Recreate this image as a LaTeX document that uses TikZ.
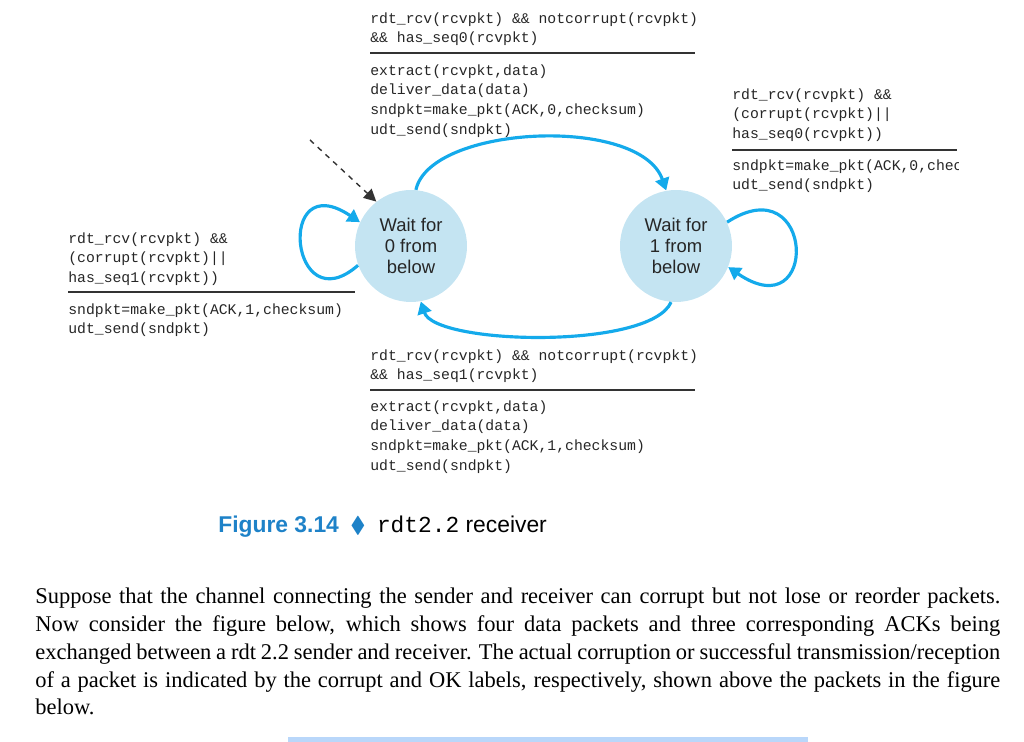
\documentclass[tikz,border=0pt]{standalone}
\usepackage{fontspec}
\usepackage{amssymb}
\usepackage{tikz}
\usetikzlibrary{arrows.meta,positioning}
\setmainfont{Liberation Serif}
\setsansfont{Liberation Sans}
\setmonofont{Liberation Mono}
\definecolor{fsmblue}{RGB}{20,170,235}
\definecolor{statefill}{RGB}{196,228,242}
\definecolor{figblue}{RGB}{30,130,200}
\definecolor{barblue}{RGB}{185,215,250}
\tikzset{
  state/.style={circle, fill=statefill, minimum size=112*0.02cm, inner sep=0pt,
    align=center, font=\sffamily\fontsize{10.5}{12}\selectfont, text=black!85},
  act/.style={anchor=north west, inner sep=0pt, align=left,
    font=\ttfamily\fontsize{8.4}{11.2}\selectfont, text=black!85},
  trans/.style={fsmblue, line width=1.8pt, -{Triangle[length=7pt,width=8pt]}},
  rule/.style={black!80, line width=0.6pt}
}
\begin{document}
\begin{tikzpicture}[x=0.02cm, y=-0.02cm]
    \useasboundingbox (0,0) rectangle (1024,742);

    % States
    \node[state] (s0) at (411,246) {Wait for\\0 from\\below};
    \node[state] (s1) at (676,246) {Wait for\\1 from\\below};

    % Initial
    \coordinate (init) at (310,140);
    \draw[dashed, black!80, thick, -{Triangle[length=7pt,width=7pt]}] (init) -- (s0.128);

    % Transitions
    \draw[trans] (s0.85) .. controls (430,125) and (640,115) .. (s1.100);
    \draw[trans] (s1.265) .. controls (650,350) and (435,345) .. (s0.280);
    \draw[trans] (s0.200) .. controls (290,325) and (275,165) .. (s0.155);
    \draw[trans] (s1.25) .. controls (815,165) and (820,330) .. (s1.-22);

    % Top label
    \node[act] (g01) at (370,12) {rdt\_rcv(rcvpkt) \&\& notcorrupt(rcvpkt)\\\&\& has\_seq0(rcvpkt)};
    \draw[rule] (370,53) -- (695,53);
    \node[act] (a01) at (370,64) {extract(rcvpkt,data)\\deliver\_data(data)\\sndpkt=make\_pkt(ACK,0,checksum)\\udt\_send(sndpkt)};

    % Right label
    \node[act] (g11) at (732,88) {rdt\_rcv(rcvpkt) \&\&\\(corrupt(rcvpkt)||\\has\_seq0(rcvpkt))};
    \draw[rule] (732,150) -- (957,150);
    \begin{scope}
        \clip (700,150) rectangle (958,200);
        \node[act] (a11) at (732,159) {sndpkt=make\_pkt(ACK,0,checksum)\\udt\_send(sndpkt)};
    \end{scope}

    % Left label
    \node[act] (g00) at (68,232) {rdt\_rcv(rcvpkt) \&\&\\(corrupt(rcvpkt)||\\has\_seq1(rcvpkt))};
    \draw[rule] (68,292) -- (355,292);
    \node[act] (a00) at (68,303) {sndpkt=make\_pkt(ACK,1,checksum)\\udt\_send(sndpkt)};

    % Bottom label
    \node[act] (g10) at (370,349) {rdt\_rcv(rcvpkt) \&\& notcorrupt(rcvpkt)\\\&\& has\_seq1(rcvpkt)};
    \draw[rule] (370,390) -- (695,390);
    \node[act] (a10) at (370,400) {extract(rcvpkt,data)\\deliver\_data(data)\\sndpkt=make\_pkt(ACK,1,checksum)\\udt\_send(sndpkt)};

    % Caption
    \node[anchor=west, inner sep=0pt, font=\sffamily\fontsize{13}{15}\selectfont] (cap) at (218,527)
        {\textcolor{figblue}{\bfseries Figure 3.14}\enspace\textcolor{figblue}{$\blacklozenge$}\enspace{\ttfamily rdt2.2} receiver};

    % Question text
    \node[anchor=north west, inner sep=0pt, text width=965*0.02cm, align=justify,
          font=\fontsize{12.8}{15.8}\selectfont] (para) at (35,588)
        {Suppose that the channel connecting the sender and receiver can corrupt but not lose or reorder packets.\linebreak
         Now consider the figure below, which shows four data packets and three corresponding ACKs being\linebreak
         exchanged between a rdt 2.2 sender and receiver. The actual corruption or successful transmission/reception\linebreak
         of a packet is indicated by the corrupt and OK labels, respectively, shown above the packets in the figure\linebreak
         below.};

    % Bar
    \fill[barblue] (288,737) rectangle (808,742);
\end{tikzpicture}
\end{document}
